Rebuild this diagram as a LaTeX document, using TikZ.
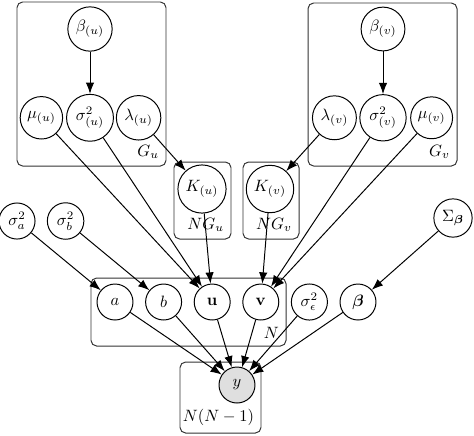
\documentclass[tikz,border=0pt]{standalone}
\usepackage{bm}
\usetikzlibrary{arrows.meta, positioning}
\tikzstyle{latent} = [circle, draw=black, semithick, minimum size=7.7mm, inner sep=2.5pt]
\tikzstyle{observed} = [latent, fill=gray!25]
\tikzstyle{plate} = [draw=black!80, semithick, rounded corners=1.2mm]
\tikzstyle{platelabel} = [anchor=south east, inner sep=4pt]
\tikzstyle{arrow} = [semithick, -{Latex[length=2.4mm, width=1.8mm]}]

\begin{document}
\begin{tikzpicture}[x=0.214mm, y=-0.214mm, on grid, node distance=19mm and 10.4mm]
\useasboundingbox (0,0) rectangle (474,435);

% Plates
\draw[plate] (17,2) rectangle (166,166) node[platelabel] (lGu) {$G_u$};
\draw[plate] (308,3) rectangle (457,166) node[platelabel] (lGv) {$G_v$};
\draw[plate] (174,162) rectangle (231,239) node[platelabel] (lNGu) {$NG_u$};
\draw[plate] (243,162) rectangle (299,239) node[platelabel] (lNGv) {$NG_v$};
\draw[plate] (91,278) rectangle (286,346) node[platelabel] (lN) {$N$};
\draw[plate] (180,362) rectangle (261,433) node[platelabel] (lNN) {$N(N-1)$};

% Nodes
\node[latent] (betau) at (90,29) {$\beta_{(u)}$};
\node[latent, below=of betau] (sigu) {$\sigma^2_{(u)}$};
\node[latent, left=of sigu] (muu) {$\mu_{(u)}$};
\node[latent, right=of sigu] (lamu) {$\lambda_{(u)}$};

\node[latent] (betav) at (383,29) {$\beta_{(v)}$};
\node[latent, below=of betav] (sigv) {$\sigma^2_{(v)}$};
\node[latent, left=of sigv] (lamv) {$\lambda_{(v)}$};
\node[latent, right=of sigv] (muv) {$\mu_{(v)}$};

\node[latent] (Ku) at (202,189) {$K_{(u)}$};
\node[latent] (Kv) at (270,189) {$K_{(v)}$};

\node[latent] (siga) at (17,221) {$\sigma^2_a$};
\node[latent, right=of siga] (sigb) {$\sigma^2_b$};
\node[latent] (Sigbeta) at (453,218) {$\Sigma_{\bm{\beta}}$};

\node[latent] (a) at (115,302) {$a$};
\node[latent, right=of a] (b) {$b$};
\node[latent, right=of b] (u) {$\mathbf{u}$};
\node[latent, right=of u] (v) {$\mathbf{v}$};
\node[latent, right=of v] (sige) {$\sigma^2_\epsilon$};
\node[latent, right=of sige] (beta) {$\bm{\beta}$};

\node[observed] (y) at (237,385) {$y$};

% Arrows
\draw[arrow] (betau) -- (sigu);
\draw[arrow] (betav) -- (sigv);
\draw[arrow] (lamu) -- (Ku);
\draw[arrow] (lamv) -- (Kv);

\draw[arrow] (muu) -- (u);
\draw[arrow] (sigu) -- (u);
\draw[arrow] (Ku) -- (u);
\draw[arrow] (Kv) -- (v);
\draw[arrow] (sigv) -- (v);
\draw[arrow] (muv) -- (v);

\draw[arrow] (siga) -- (a);
\draw[arrow] (sigb) -- (b);
\draw[arrow] (Sigbeta) -- (beta);

\draw[arrow] (a) -- (y);
\draw[arrow] (b) -- (y);
\draw[arrow] (u) -- (y);
\draw[arrow] (v) -- (y);
\draw[arrow] (sige) -- (y);
\draw[arrow] (beta) -- (y);

\end{tikzpicture}
\end{document}
